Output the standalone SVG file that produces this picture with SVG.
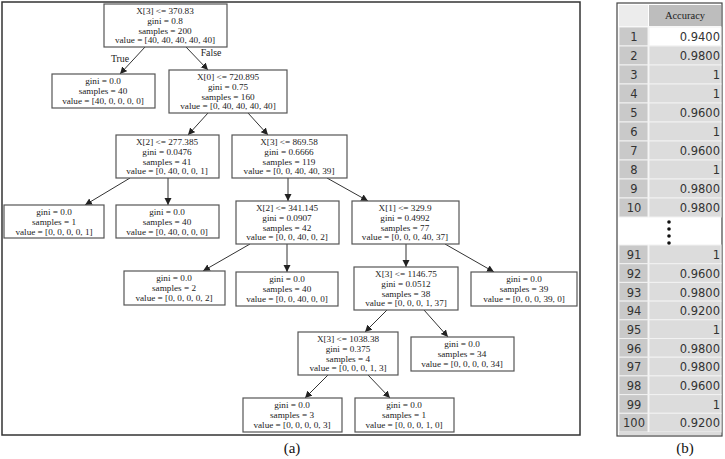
<svg xmlns="http://www.w3.org/2000/svg" width="725" height="459" viewBox="0 0 725 459">
<style>
.n rect{fill:#fff;stroke:#555;stroke-width:1.2}
.n text,.lb{font-family:"Liberation Serif",serif;font-size:9.2px;fill:#222;text-anchor:middle}
#edges line{stroke:#333;stroke-width:1;marker-end:url(#ah)}
.ix{font-family:"DejaVu Sans",sans-serif;font-size:11.5px;fill:#333;text-anchor:middle}
.vl{font-family:"DejaVu Sans",sans-serif;font-size:11.5px;fill:#333;text-anchor:end}
.cap{font-family:"Liberation Serif",serif;font-size:15px;fill:#111;text-anchor:middle}
</style>
<defs><marker id="ah" markerWidth="8" markerHeight="8" refX="7" refY="3.5" orient="auto" markerUnits="userSpaceOnUse"><path d="M0,0L7,3.5L0,7z" fill="#222"/></marker></defs>
<rect x="2" y="2" width="578" height="433" fill="#fff" stroke="#333" stroke-width="1.5"/>
<g id="edges">
<line x1="145" y1="47" x2="120" y2="74"/><line x1="186" y1="47" x2="208" y2="70"/>
<line x1="208" y1="113" x2="188" y2="135"/><line x1="248" y1="113" x2="268" y2="135"/>
<line x1="130" y1="178" x2="85" y2="205"/><line x1="168" y1="178" x2="168" y2="205"/>
<line x1="288" y1="178" x2="288" y2="201"/><line x1="327" y1="178" x2="368" y2="201"/>
<line x1="250" y1="244" x2="203" y2="271"/><line x1="287" y1="244" x2="287" y2="272"/>
<line x1="406" y1="244" x2="406" y2="267"/><line x1="445" y1="244" x2="494" y2="272"/>
<line x1="387" y1="310" x2="365" y2="332"/><line x1="424" y1="310" x2="448" y2="337"/>
<line x1="328" y1="375" x2="305" y2="398"/><line x1="368" y1="375" x2="390" y2="398"/>
<text class="lb" x="120" y="62" style="font-size:9.8px">True</text><text class="lb" x="211" y="56" style="font-size:9.8px">False</text>
</g>
<g id="n0" class="n"><rect x="104" y="4" width="123" height="43"/><text x="165" y="14">X[3] &lt;= 370.83</text><text x="165" y="24">gini = 0.8</text><text x="165" y="33.5">samples = 200</text><text x="165" y="43">value = [40, 40, 40, 40, 40]</text></g>
<g id="n1" class="n"><rect x="52" y="74" width="103" height="34"/><text x="103" y="84">gini = 0.0</text><text x="103" y="94">samples = 40</text><text x="103" y="104">value = [40, 0, 0, 0, 0]</text></g>
<g id="n2" class="n"><rect x="169" y="70" width="118" height="43"/><text x="228" y="80">X[0] &lt;= 720.895</text><text x="228" y="90">gini = 0.75</text><text x="228" y="99.5">samples = 160</text><text x="228" y="109">value = [0, 40, 40, 40, 40]</text></g>
<g id="n3" class="n"><rect x="116" y="135" width="103" height="43"/><text x="167" y="145">X[2] &lt;= 277.385</text><text x="167" y="155">gini = 0.0476</text><text x="167" y="164.5">samples = 41</text><text x="167" y="174">value = [0, 40, 0, 0, 1]</text></g>
<g id="n4" class="n"><rect x="232" y="135" width="115" height="43"/><text x="289" y="145">X[3] &lt;= 869.58</text><text x="289" y="155">gini = 0.6666</text><text x="289" y="164.5">samples = 119</text><text x="289" y="174">value = [0, 0, 40, 40, 39]</text></g>
<g id="n5" class="n"><rect x="4" y="205" width="100" height="33"/><text x="54" y="215">gini = 0.0</text><text x="54" y="225">samples = 1</text><text x="54" y="234.5">value = [0, 0, 0, 0, 1]</text></g>
<g id="n6" class="n"><rect x="116" y="205" width="103" height="33"/><text x="167" y="215">gini = 0.0</text><text x="167" y="225">samples = 40</text><text x="167" y="234.5">value = [0, 40, 0, 0, 0]</text></g>
<g id="n7" class="n"><rect x="236" y="201" width="103" height="43"/><text x="287" y="211">X[2] &lt;= 341.145</text><text x="287" y="221">gini = 0.0907</text><text x="287" y="230.5">samples = 42</text><text x="287" y="240">value = [0, 0, 40, 0, 2]</text></g>
<g id="n8" class="n"><rect x="352" y="201" width="107" height="43"/><text x="405" y="211">X[1] &lt;= 329.9</text><text x="405" y="221">gini = 0.4992</text><text x="405" y="230.5">samples = 77</text><text x="405" y="240">value = [0, 0, 0, 40, 37]</text></g>
<g id="n9" class="n"><rect x="124" y="271" width="101" height="34"/><text x="174" y="281">gini = 0.0</text><text x="174" y="291">samples = 2</text><text x="174" y="301">value = [0, 0, 0, 0, 2]</text></g>
<g id="n10" class="n"><rect x="236" y="272" width="102" height="34"/><text x="287" y="282">gini = 0.0</text><text x="287" y="292">samples = 40</text><text x="287" y="302">value = [0, 0, 40, 0, 0]</text></g>
<g id="n11" class="n"><rect x="354" y="267" width="104" height="43"/><text x="406" y="277">X[3] &lt;= 1146.75</text><text x="406" y="287">gini = 0.0512</text><text x="406" y="296.5">samples = 38</text><text x="406" y="306">value = [0, 0, 0, 1, 37]</text></g>
<g id="n12" class="n"><rect x="471" y="272" width="106" height="34"/><text x="524" y="282">gini = 0.0</text><text x="524" y="292">samples = 39</text><text x="524" y="302">value = [0, 0, 0, 39, 0]</text></g>
<g id="n13" class="n"><rect x="298" y="332" width="100" height="43"/><text x="348" y="342">X[3] &lt;= 1038.38</text><text x="348" y="352">gini = 0.375</text><text x="348" y="361.5">samples = 4</text><text x="348" y="371">value = [0, 0, 0, 1, 3]</text></g>
<g id="n14" class="n"><rect x="411" y="337" width="103" height="34"/><text x="462" y="347">gini = 0.0</text><text x="462" y="357">samples = 34</text><text x="462" y="367">value = [0, 0, 0, 0, 34]</text></g>
<g id="n15" class="n"><rect x="243" y="398" width="99" height="34"/><text x="292" y="408">gini = 0.0</text><text x="292" y="418">samples = 3</text><text x="292" y="428">value = [0, 0, 0, 0, 3]</text></g>
<g id="n16" class="n"><rect x="355" y="398" width="99" height="34"/><text x="404" y="408">gini = 0.0</text><text x="404" y="418">samples = 1</text><text x="404" y="428">value = [0, 0, 0, 1, 0]</text></g>
<text class="cap" x="292" y="453">(a)</text>
<g id="table">
<rect x="617" y="3" width="105" height="433" fill="#fff" stroke="#444" stroke-width="1.2"/>
<rect x="619" y="5" width="29" height="21" fill="#ececec"/>
<rect x="649" y="5" width="72" height="21" fill="#bdbdbd"/>
<text x="685" y="19" class="lb" style="font-size:10.5px">Accuracy</text>
<g id="rows" fill="#dcdcdc" stroke="#f2f2f2" stroke-width="1">
<rect x="619" y="27" width="29" height="19" fill="#c9c9c9"/><rect x="649" y="27" width="72" height="19" fill="#fff"/>
<rect x="619" y="46" width="29" height="19" fill="#c9c9c9"/><rect x="649" y="46" width="72" height="19"/>
<rect x="619" y="65" width="29" height="19" fill="#c9c9c9"/><rect x="649" y="65" width="72" height="19"/>
<rect x="619" y="84" width="29" height="19" fill="#c9c9c9"/><rect x="649" y="84" width="72" height="19"/>
<rect x="619" y="103" width="29" height="19" fill="#c9c9c9"/><rect x="649" y="103" width="72" height="19"/>
<rect x="619" y="122" width="29" height="19" fill="#c9c9c9"/><rect x="649" y="122" width="72" height="19"/>
<rect x="619" y="141" width="29" height="19" fill="#c9c9c9"/><rect x="649" y="141" width="72" height="19"/>
<rect x="619" y="160" width="29" height="19" fill="#c9c9c9"/><rect x="649" y="160" width="72" height="19"/>
<rect x="619" y="179" width="29" height="19" fill="#c9c9c9"/><rect x="649" y="179" width="72" height="19"/>
<rect x="619" y="198" width="29" height="19" fill="#c9c9c9"/><rect x="649" y="198" width="72" height="19"/>
<rect x="619" y="245" width="29" height="18.7" fill="#c9c9c9"/><rect x="649" y="245" width="72" height="18.7"/>
<rect x="619" y="263.7" width="29" height="18.7" fill="#c9c9c9"/><rect x="649" y="263.7" width="72" height="18.7"/>
<rect x="619" y="282.4" width="29" height="18.7" fill="#c9c9c9"/><rect x="649" y="282.4" width="72" height="18.7"/>
<rect x="619" y="301.1" width="29" height="18.7" fill="#c9c9c9"/><rect x="649" y="301.1" width="72" height="18.7"/>
<rect x="619" y="319.8" width="29" height="18.7" fill="#c9c9c9"/><rect x="649" y="319.8" width="72" height="18.7"/>
<rect x="619" y="338.5" width="29" height="18.7" fill="#c9c9c9"/><rect x="649" y="338.5" width="72" height="18.7"/>
<rect x="619" y="357.2" width="29" height="18.7" fill="#c9c9c9"/><rect x="649" y="357.2" width="72" height="18.7"/>
<rect x="619" y="375.9" width="29" height="18.7" fill="#c9c9c9"/><rect x="649" y="375.9" width="72" height="18.7"/>
<rect x="619" y="394.6" width="29" height="18.7" fill="#c9c9c9"/><rect x="649" y="394.6" width="72" height="18.7"/>
<rect x="619" y="413.3" width="29" height="18.7" fill="#c9c9c9"/><rect x="649" y="413.3" width="72" height="18.7"/>
<rect x="619" y="432" width="102" height="3" fill="#dcdcdc" stroke="none"/>
</g>
<g fill="#111"><circle cx="669" cy="222" r="1.8"/><circle cx="669" cy="229" r="1.8"/><circle cx="669" cy="236" r="1.8"/><circle cx="669" cy="243" r="1.8"/></g>
<g class="ix"><text x="634" y="41">1</text><text x="634" y="60">2</text><text x="634" y="79">3</text><text x="634" y="98">4</text><text x="634" y="117">5</text><text x="634" y="136">6</text><text x="634" y="155">7</text><text x="634" y="174">8</text><text x="634" y="193">9</text><text x="634" y="212">10</text>
<text x="634" y="259">91</text><text x="634" y="278">92</text><text x="634" y="297">93</text><text x="634" y="315">94</text><text x="634" y="334">95</text><text x="634" y="353">96</text><text x="634" y="371">97</text><text x="634" y="390">98</text><text x="634" y="409">99</text><text x="634" y="427">100</text></g>
<g class="vl"><text x="720" y="41">0.9400</text><text x="720" y="60">0.9800</text><text x="720" y="79">1</text><text x="720" y="98">1</text><text x="720" y="117">0.9600</text><text x="720" y="136">1</text><text x="720" y="155">0.9600</text><text x="720" y="174">1</text><text x="720" y="193">0.9800</text><text x="720" y="212">0.9800</text>
<text x="720" y="259">1</text><text x="720" y="278">0.9600</text><text x="720" y="297">0.9800</text><text x="720" y="315">0.9200</text><text x="720" y="334">1</text><text x="720" y="353">0.9800</text><text x="720" y="371">0.9800</text><text x="720" y="390">0.9600</text><text x="720" y="409">1</text><text x="720" y="427">0.9200</text></g>
</g>
<text class="cap" x="685" y="453">(b)</text>
</svg>
